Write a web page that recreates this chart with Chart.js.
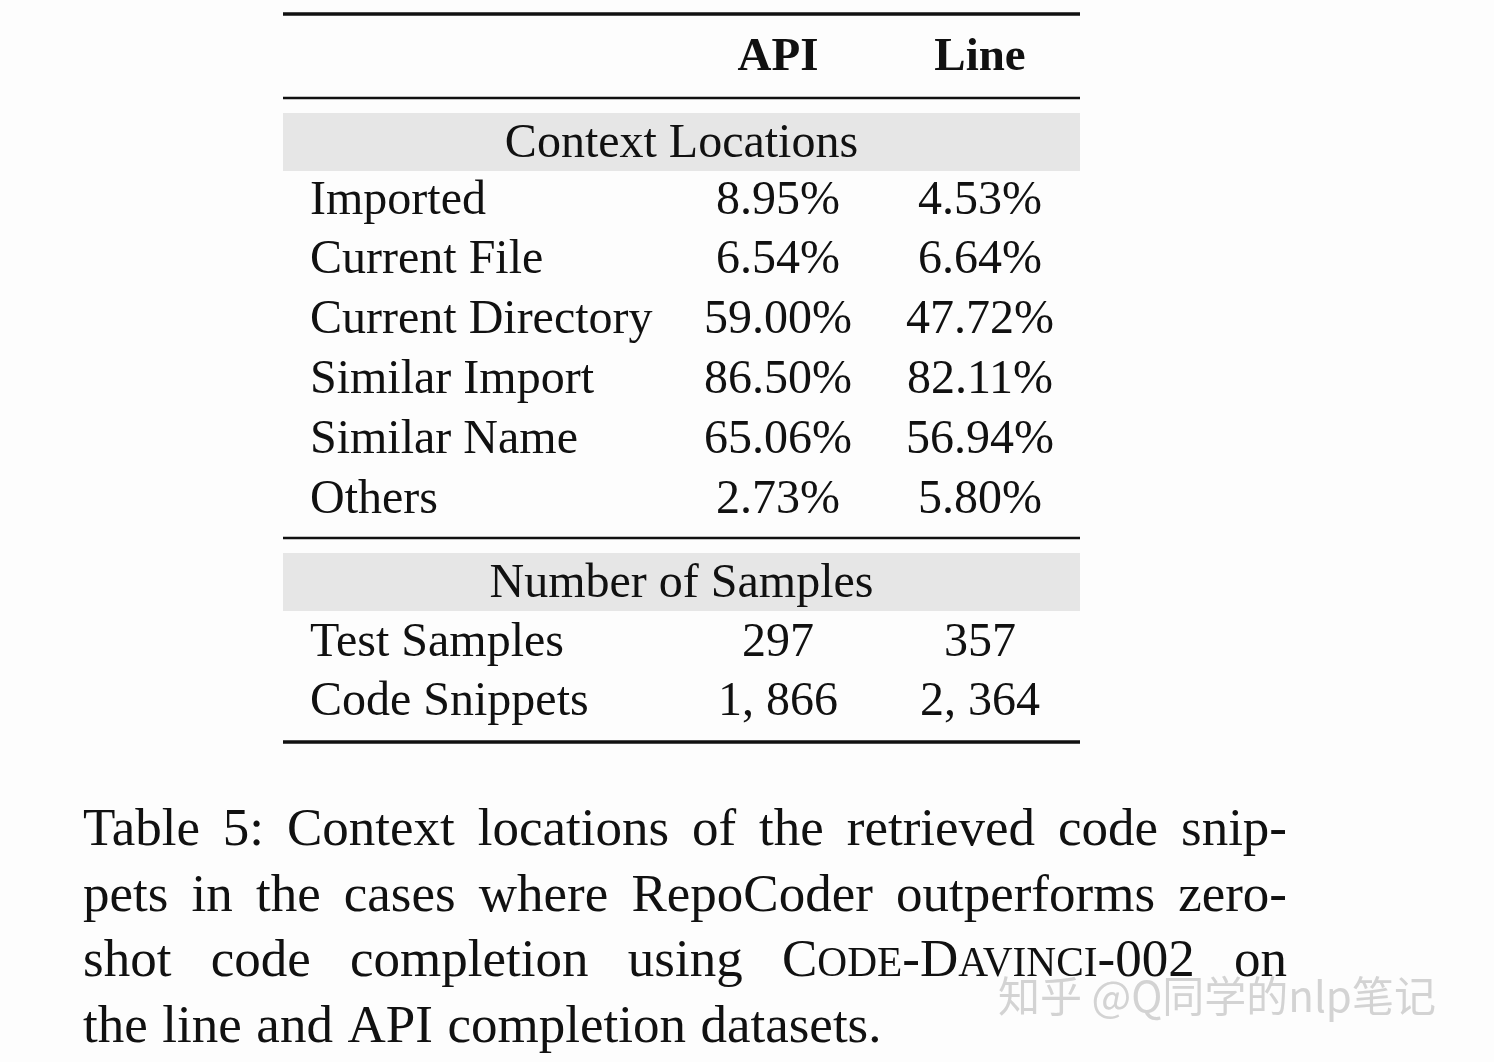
<!DOCTYPE html>
<html><head><meta charset="utf-8">
<script src="https://cdn.jsdelivr.net/npm/chart.js@4.4.0/dist/chart.umd.min.js"></script>
<style>html,body{margin:0;padding:0;background:#fdfdfd}canvas{display:block}</style>
</head><body>
<canvas id="c" width="1494" height="1062"></canvas>
<script>
// Table data
var columns = ['API', 'Line'];
var sectionTitles = ['Context Locations', 'Number of Samples'];
var locationLabels = ['Imported', 'Current File', 'Current Directory', 'Similar Import', 'Similar Name', 'Others'];
var apiLocations = ['8.95%', '6.54%', '59.00%', '86.50%', '65.06%', '2.73%'];
var lineLocations = ['4.53%', '6.64%', '47.72%', '82.11%', '56.94%', '5.80%'];
var sampleLabels = ['Test Samples', 'Code Snippets'];
var apiSamples = ['297', '1, 866'];
var lineSamples = ['357', '2, 364'];
var captionLines = [
  'Table 5: Context locations of the retrieved code snip-',
  'pets in the cases where RepoCoder outperforms zero-',
  'shot code completion using CODE-DAVINCI-002 on',
  'the line and API completion datasets.'
];
var watermark = '知乎 @Q同学的nlp笔记';

// Layout (value space of the linear scales)
var L = { left: 283, right: 1080, labelX: 310, colX: [778, 980],
  top: 14, headY: 58, headRule: 98, band1: [113, 171], rowY0: 201, rowStep: 59.8,
  midRule: 538, band2: [553, 611], sRowY0: 643, sRowStep: 59.5, botRule: 742,
  capX: [83, 1287], capY0: 828, capStep: 65.5 };

var SERIF = '"Liberation Serif", "DejaVu Serif", serif';

function smallCapsSegs(word) {
  if (word !== 'CODE-DAVINCI-002') return [[word, 1]];
  return [['C', 1], ['ODE', 0.78], ['-D', 1], ['AVINCI', 0.78], ['-002', 1]];
}

var tablePlugin = {
  id: 'table',
  beforeDraw: function (chart) {
    var c = chart.ctx; c.save(); c.fillStyle = '#fdfdfd';
    c.fillRect(0, 0, chart.width, chart.height); c.restore();
  },
  afterDraw: function (chart) {
    var c = chart.ctx, xs = chart.scales.x, ys = chart.scales.y;
    var X = function (v) { return xs.getPixelForValue(v); };
    var Y = function (v) { return ys.getPixelForValue(v); };
    c.save();
    function rule(y, w) { c.fillStyle = '#111'; c.fillRect(X(L.left), Y(y) - w / 2, X(L.right) - X(L.left), w); }
    function band(b) { c.fillStyle = '#e6e6e6'; c.fillRect(X(L.left), Y(b[0]), X(L.right) - X(L.left), Y(b[1]) - Y(b[0])); }
    band(L.band1); band(L.band2);
    rule(L.top, 3.5); rule(L.headRule, 2.5); rule(L.midRule, 2.5); rule(L.botRule, 3.5);

    c.fillStyle = '#111'; c.textBaseline = 'middle';
    c.font = 'bold 47px ' + SERIF; c.textAlign = 'center';
    columns.forEach(function (t, i) { c.fillText(t, X(L.colX[i]), Y(L.headY)); });

    c.font = '48px ' + SERIF;
    c.fillText(sectionTitles[0], X((L.left + L.right) / 2), Y((L.band1[0] + L.band1[1]) / 2 + 2));
    c.fillText(sectionTitles[1], X((L.left + L.right) / 2), Y((L.band2[0] + L.band2[1]) / 2 + 2));

    function rows(labels, a, b, y0, step) {
      labels.forEach(function (lab, i) {
        var y = Y(y0 + i * step);
        c.textAlign = 'left'; c.fillText(lab, X(L.labelX), y);
        c.textAlign = 'center';
        c.fillText(a[i], X(L.colX[0]), y); c.fillText(b[i], X(L.colX[1]), y);
      });
    }
    rows(locationLabels, apiLocations, lineLocations, L.rowY0, L.rowStep);
    rows(sampleLabels, apiSamples, lineSamples, L.sRowY0, L.sRowStep);

    // caption, justified
    var fs = 53;
    c.textAlign = 'left'; c.textBaseline = 'alphabetic';
    function segW(word) {
      return smallCapsSegs(word).reduce(function (s, g) { c.font = (fs * g[1]) + 'px ' + SERIF; return s + c.measureText(g[0]).width; }, 0);
    }
    captionLines.forEach(function (line, li) {
      var words = line.split(' ');
      var widths = words.map(segW);
      var total = widths.reduce(function (a, b) { return a + b; }, 0);
      var W = X(L.capX[1]) - X(L.capX[0]);
      c.font = fs + 'px ' + SERIF;
      var gap = li < captionLines.length - 1 ? (W - total) / (words.length - 1) : c.measureText(' ').width * 1.1;
      var x = X(L.capX[0]), y = Y(L.capY0 + li * L.capStep) + 17;
      words.forEach(function (w, i) {
        smallCapsSegs(w).forEach(function (g) {
          c.font = (fs * g[1]) + 'px ' + SERIF; c.fillStyle = '#111';
          c.fillText(g[0], x, y); x += c.measureText(g[0]).width;
        });
        x += gap;
      });
    });

    c.font = '42px "Noto Sans CJK SC", sans-serif';
    c.fillStyle = 'rgba(200,200,200,0.8)'; c.textBaseline = 'middle';
    c.fillText(watermark, X(998), Y(996));
    c.restore();
  }
};

new Chart(document.getElementById('c'), {
  type: 'scatter',
  data: { datasets: [] },
  options: {
    responsive: false, animation: false, devicePixelRatio: 1,
    layout: { padding: 0 },
    plugins: { legend: { display: false }, tooltip: { enabled: false } },
    scales: {
      x: { type: 'linear', min: 0, max: 1494, display: false },
      y: { type: 'linear', min: 0, max: 1062, reverse: true, display: false }
    }
  },
  plugins: [tablePlugin]
});
</script>
</body></html>
